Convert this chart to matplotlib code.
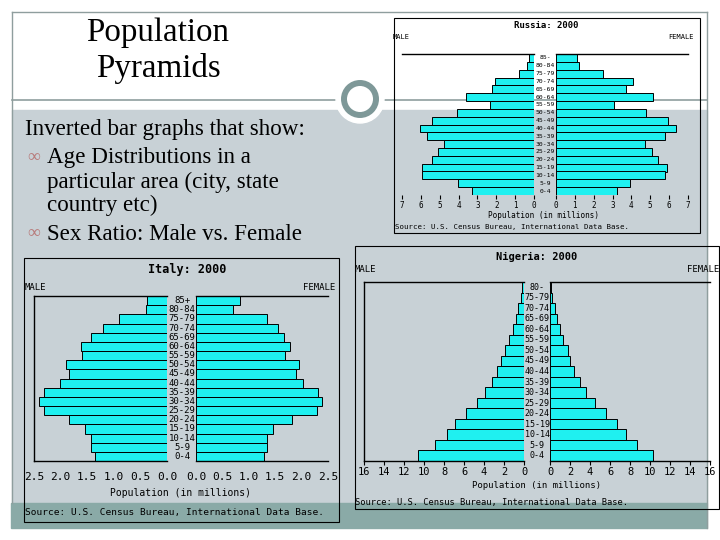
import matplotlib
matplotlib.use("Agg")
import numpy as np
import matplotlib.pyplot as plt
from matplotlib.patches import Rectangle, Circle
from matplotlib.transforms import blended_transform_factory

W, H = 720, 540
CYAN = "#1ff0f0"
MONO = "DejaVu Sans Mono"
SERIF = ["Liberation Serif", "DejaVu Serif"]

# ---- data (read top -> bottom, oldest first) ----
russia_ages = ["85-", "80-84", "75-79", "70-74", "65-69", "60-64", "55-59", "50-54", "45-49",
               "40-44", "35-39", "30-34", "25-29", "20-24", "15-19", "10-14", "5-9", "0-4"]
russia_male = [0.25, 0.36, 0.8, 2.08, 2.25, 3.58, 2.33, 4.1, 5.4,
               6.06, 5.7, 4.77, 5.1, 5.42, 5.93, 5.93, 4.05, 3.3]
russia_female = [1.1, 1.2, 2.48, 4.07, 3.7, 5.13, 3.06, 4.76, 5.93,
                 6.39, 5.79, 4.7, 5.08, 5.4, 5.86, 5.79, 3.91, 3.24]

italy_ages = ["85+", "80-84", "75-79", "70-74", "65-69", "60-64", "55-59", "50-54", "45-49",
              "40-44", "35-39", "30-34", "25-29", "20-24", "15-19", "10-14", "5-9", "0-4"]
italy_male = [0.37, 0.39, 0.90, 1.21, 1.42, 1.62, 1.59, 1.89, 1.85,
              2.02, 2.32, 2.41, 2.31, 1.85, 1.55, 1.43, 1.42, 1.35]
italy_female = [0.83, 0.70, 1.35, 1.56, 1.67, 1.78, 1.69, 1.95, 1.89,
                2.02, 2.31, 2.38, 2.29, 1.81, 1.46, 1.35, 1.34, 1.28]

nigeria_ages = ["80-", "75-79", "70-74", "65-69", "60-64", "55-59", "50-54", "45-49", "40-44",
                "35-39", "30-34", "25-29", "20-24", "15-19", "10-14", "5-9", "0-4"]
nigeria_male = [0.23, 0.33, 0.57, 0.8, 1.1, 1.47, 1.87, 2.27, 2.67,
                3.2, 3.87, 4.71, 5.78, 6.88, 7.72, 8.88, 10.62]
nigeria_female = [0.13, 0.2, 0.5, 0.73, 1.0, 1.34, 1.77, 2.0, 2.4,
                  3.0, 3.64, 4.48, 5.61, 6.71, 7.62, 8.72, 10.32]

fig = plt.figure(figsize=(7.2, 5.4), dpi=100)
fig.patch.set_facecolor("white")

# slide background, pixel coordinates
bg = fig.add_axes([0, 0, 1, 1])
bg.set_xlim(0, W)
bg.set_ylim(H, 0)
bg.axis("off")
bg.add_patch(Rectangle((12, 110), 695, 393, color="#c8d1d6", zorder=0))
bg.add_patch(Rectangle((11, 503), 696, 25, color="#8aaaa7", zorder=0))
fc = "#8f9e9e"
bg.plot([12, 707], [12, 12], color=fc, lw=1)
bg.plot([12, 12], [12, 503], color=fc, lw=1)
bg.plot([707, 707], [12, 528], color=fc, lw=1)
bg.plot([12, 707], [100, 100], color=fc, lw=1.2)
bg.add_patch(Circle((360, 99), 24, color="white", zorder=2))
bg.add_patch(Circle((360, 99), 16, fill=False, ec="#7e9898", lw=4.3, zorder=3))

bg.text(158, 33, "Population", ha="center", va="center", fontsize=23.8, family=SERIF)
bg.text(158, 68, "Pyramids", ha="center", va="center", fontsize=23.8, family=SERIF)
bg.text(25, 130, "Inverted bar graphs that show:", ha="left", va="center", fontsize=16.6, family=SERIF)
bullet = "#b87c7c"
bg.text(27, 158, "\u221e", ha="left", va="center", fontsize=13, color=bullet, family=SERIF)
bg.text(47, 158, "Age Distributions in a", ha="left", va="center", fontsize=16.6, family=SERIF)
bg.text(47, 182, "particular area (city, state", ha="left", va="center", fontsize=16.6, family=SERIF)
bg.text(47, 205, "country etc)", ha="left", va="center", fontsize=16.6, family=SERIF)
bg.text(27, 234, "\u221e", ha="left", va="center", fontsize=13, color=bullet, family=SERIF)
bg.text(47, 234, "Sex Ratio: Male vs. Female", ha="left", va="center", fontsize=16.6, family=SERIF)

# chart frames
bg.add_patch(Rectangle((394, 18), 306, 215, fill=False, ec="black", lw=0.8, zorder=4))
bg.add_patch(Rectangle((24, 258), 315, 264, fill=False, ec="black", lw=0.8, zorder=4))
bg.add_patch(Rectangle((355, 246), 364, 263, fill=False, ec="black", lw=0.8, zorder=4))


def px_axes(x0, y0, x1, y1):
    return fig.add_axes([x0 / W, 1 - y1 / H, (x1 - x0) / W, (y1 - y0) / H])


def pyramid(ages, male, female, xmax, step, fmt, mx, fx, y0, y1, age_x,
            fs_tick, fs_age, tick_len, pad, show_left, show_bottom):
    n = len(ages)
    ypos = np.arange(n)[::-1]
    axm = px_axes(mx[0], y0, mx[1], y1)
    axf = px_axes(fx[0], y0, fx[1], y1)
    ticks = np.arange(0, xmax + 0.001, step)
    for ax, vals in ((axm, male), (axf, female)):
        ax.barh(ypos, vals, height=1, color=CYAN, edgecolor="black", linewidth=0.7)
        ax.set_ylim(-0.5, n - 0.5)
        ax.patch.set_alpha(0)
        ax.set_yticks([])
        ax.set_xticks(ticks)
        ax.set_xticklabels([fmt % t for t in ticks], fontsize=fs_tick, family=MONO)
        ax.tick_params(axis="x", length=tick_len, width=0.8, pad=pad)
        ax.spines["right"].set_visible(False)
        ax.spines["left"].set_visible(False)
        ax.spines["bottom"].set_visible(show_bottom)
        for s in ax.spines.values():
            s.set_linewidth(1.0)
    axm.set_xlim(xmax, 0)
    axf.set_xlim(0, xmax)
    axm.spines["left"].set_visible(show_left)
    tr = blended_transform_factory(bg.transData, axm.transData)
    for y, a in zip(ypos, ages):
        axm.text(age_x, y, a, transform=tr, ha="center", va="center",
                 fontsize=fs_age, family=MONO, clip_on=False)


# Italy
pyramid(italy_ages, italy_male, italy_female, 2.5, 0.5, "%.1f",
        (34, 167), (196, 328), 296, 461, 182, 8, 6.5, 0, 8, True, True)
bg.text(187, 270, "Italy: 2000", ha="center", va="center", fontsize=8.5, family=MONO, weight="bold")
bg.text(25, 288, "MALE", ha="left", va="center", fontsize=6.5, family=MONO)
bg.text(335, 288, "FEMALE", ha="right", va="center", fontsize=6.5, family=MONO)
bg.text(181, 493, "Population (in millions)", ha="center", va="center", fontsize=7, family=MONO)
bg.text(25, 512, "Source: U.S. Census Bureau, International Data Base.", ha="left", va="center",
        fontsize=6.8, family=MONO)

# Nigeria
pyramid(nigeria_ages, nigeria_male, nigeria_female, 16, 2, "%d",
        (364, 524), (550, 710), 282, 461, 537, 7.5, 6, 3, 1.5, True, True)
bg.text(537, 257, "Nigeria: 2000", ha="center", va="center", fontsize=7.5, family=MONO, weight="bold")
bg.text(355, 270, "MALE", ha="left", va="center", fontsize=6.5, family=MONO)
bg.text(719, 270, "FEMALE", ha="right", va="center", fontsize=6.5, family=MONO)
bg.text(537, 486, "Population (in millions)", ha="center", va="center", fontsize=6.5, family=MONO)
bg.text(355, 502, "Source: U.S. Census Bureau, International Data Base.", ha="left", va="center",
        fontsize=6.3, family=MONO)

# Russia
pyramid(russia_ages, russia_male, russia_female, 7, 1, "%d",
        (402, 534), (556, 688), 54, 195, 545, 5.5, 4.6, 3, 1, False, False)
bg.text(546, 25, "Russia: 2000", ha="center", va="center", fontsize=6.5, family=MONO, weight="bold")
bg.text(393, 37, "MALE", ha="left", va="center", fontsize=5, family=MONO)
bg.text(694, 37, "FEMALE", ha="right", va="center", fontsize=5, family=MONO)
bg.text(543, 215, "Population (in millions)", ha="center", va="center", fontsize=5.5, family=MONO)
bg.text(395, 227, "Source: U.S. Census Bureau, International Data Base.", ha="left", va="center",
        fontsize=5.3, family=MONO)

fig.savefig("out.png", dpi=100)
